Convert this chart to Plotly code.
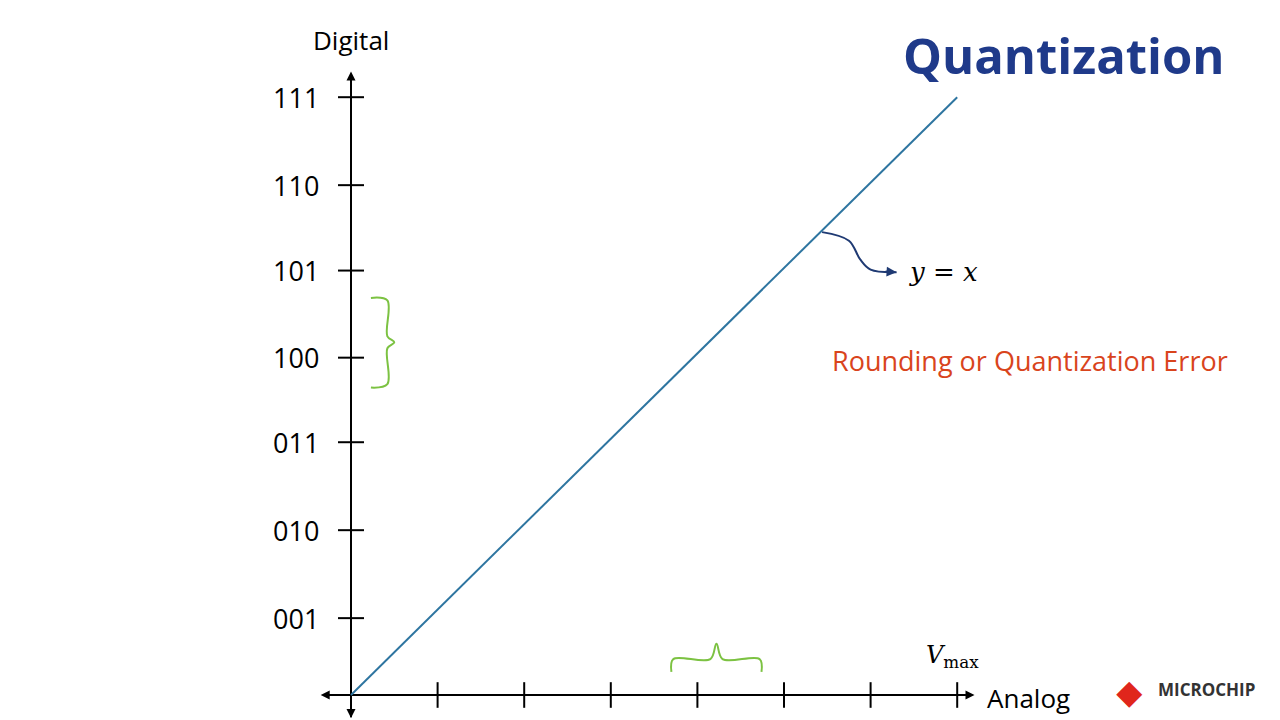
import plotly.graph_objects as go

# data
codes = ["001", "010", "011", "100", "101", "110", "111"]
code_levels = [0.9, 1.93, 2.96, 3.95, 4.97, 5.97, 7.0]
analog_ticks = [1, 2, 3, 4, 5, 6, 7]
ideal_x = [0, 7]
ideal_y = [0, 7]

SX = 86.6   # px per unit x
SY = 85.4   # px per unit y
X0, Y0 = 343, 687   # origin inside the plot div (page body has 8px margin)

fig = go.Figure()
black = dict(color="black", width=2)

# axes
fig.add_trace(go.Scatter(x=[0, 0], y=[-0.26, 7.2], mode="lines", line=black))
fig.add_trace(go.Scatter(x=[-0.3, 7.1], y=[0, 0], mode="lines", line=black))
for v in code_levels:
    fig.add_trace(go.Scatter(x=[-0.15, 0.15], y=[v, v], mode="lines", line=black))
for v in analog_ticks:
    fig.add_trace(go.Scatter(x=[v, v], y=[-0.15, 0.15], mode="lines", line=black))

# ideal line y = x
fig.add_trace(go.Scatter(x=ideal_x, y=ideal_y, mode="lines",
                         line=dict(color="#2E75A0", width=2)))

# green braces
g = dict(color="#7CC242", width=2)
fig.add_trace(go.Scatter(x=[0.23, 0.42, 0.42, 0.5, 0.42, 0.42, 0.23],
                         y=[4.65, 4.62, 4.2, 4.13, 4.06, 3.64, 3.6],
                         mode="lines", line=dict(g, shape="spline")))
fig.add_trace(go.Scatter(x=[3.7, 3.72, 4.15, 4.22, 4.29, 4.72, 4.74],
                         y=[0.27, 0.42, 0.42, 0.6, 0.42, 0.42, 0.27],
                         mode="lines", line=dict(g, shape="spline")))

# curved pointer
fig.add_trace(go.Scatter(x=[5.44, 5.75, 5.88, 6.0, 6.3],
                         y=[5.42, 5.32, 5.1, 4.98, 4.95],
                         mode="lines", line=dict(color="#1F3A73", width=2, shape="spline")))
fig.add_annotation(x=6.3, y=4.95, ax=6.15, ay=4.96, xref="x", yref="y", axref="x", ayref="y",
                   showarrow=True, arrowhead=2, arrowcolor="#1F3A73", arrowwidth=2, text=" ",
                   font=dict(size=2))

# arrowheads of axes
for (x, y, ax, ay) in [(0, 7.3, 0, 7.0), (0, -0.27, 0, -0.1), (7.2, 0, 7.0, 0), (-0.35, 0, -0.15, 0)]:
    fig.add_annotation(x=x, y=y, ax=ax, ay=ay, xref="x", yref="y", axref="x", ayref="y",
                       showarrow=True, arrowhead=2, arrowsize=1.2, arrowwidth=1.5,
                       arrowcolor="black", text=" ", font=dict(size=2))

font = "Open Sans"
for c, v in zip(codes, code_levels):
    fig.add_annotation(x=-0.635, y=v, text=c, showarrow=False,
                       font=dict(family=font, size=27, color="black"))
fig.add_annotation(x=0, y=7.67, text="Digital", showarrow=False,
                   font=dict(family=font, size=26, color="black"))
fig.add_annotation(x=7.82, y=-0.03, text="Analog", showarrow=False,
                   font=dict(family=font, size=26, color="black"))
fig.add_annotation(x=6.94, y=0.45, text="<i>V</i><sub>max</sub>", showarrow=False,
                   font=dict(family="DejaVu Serif", size=24, color="black"))
fig.add_annotation(x=6.84, y=4.95, text="<i>y</i> = <i>x</i>", showarrow=False,
                   font=dict(family="DejaVu Serif", size=26, color="black"))
fig.add_annotation(x=7.84, y=3.92, text="Rounding or Quantization Error", showarrow=False,
                   font=dict(family=font, size=27, color="#D9441C"))
fig.add_annotation(x=8.23, y=7.49, text="<b>Quantization</b>", showarrow=False,
                   font=dict(family=font, size=49, color="#1F3A8A"))
fig.add_annotation(x=8.99, y=0.05, text="<b>\u25C6</b>", showarrow=False,
                   font=dict(family=font, size=32, color="#E0261C"))
fig.add_annotation(x=9.88, y=0.07, text="<b>MICROCHIP</b>", showarrow=False,
                   font=dict(family=font, size=17, color="#333333"))

fig.update_layout(
    width=1280, height=720, showlegend=False,
    margin=dict(l=0, r=0, t=0, b=0),
    paper_bgcolor="white", plot_bgcolor="white",
    xaxis=dict(range=[-X0 / SX, (1280 - X0) / SX], visible=False, fixedrange=True),
    yaxis=dict(range=[-(720 - Y0) / SY, Y0 / SY], visible=False, fixedrange=True),
)
fig.write_html("out.html")
